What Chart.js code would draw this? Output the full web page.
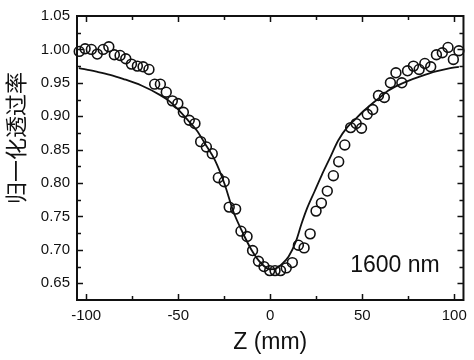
<!DOCTYPE html>
<html>
<head>
<meta charset="utf-8">
<script src="https://cdn.jsdelivr.net/npm/chart.js@4/dist/chart.umd.min.js"></script>
<style>
html,body{margin:0;padding:0;background:#fff;}
canvas{display:block;}
</style>
</head>
<body>
<canvas id="c" width="474" height="360"></canvas>
<script>
// Measured data (open circles)
const zData = [-103.8,-100.6,-97.2,-94.0,-90.8,-87.7,-84.7,-81.6,-78.5,-75.4,-72.2,-69.1,-65.9,-62.8,-59.7,-56.5,-53.2,-50.2,-47.2,-44.0,-40.9,-37.8,-34.7,-31.5,-28.2,-25.0,-22.3,-18.8,-15.9,-12.6,-9.6,-6.4,-3.4,-0.3,2.6,5.6,8.7,12.0,15.3,18.4,21.7,24.9,27.8,31.0,34.3,37.2,40.5,43.7,46.7,49.6,52.7,55.7,58.8,62.0,65.3,68.3,71.5,74.6,77.8,80.9,84.0,87.2,90.3,93.5,96.6,99.5,102.5];
const tData = [0.997,1.001,1.000,0.993,1.000,1.004,0.992,0.991,0.986,0.978,0.975,0.974,0.970,0.948,0.948,0.936,0.923,0.919,0.906,0.894,0.889,0.862,0.854,0.844,0.808,0.802,0.764,0.761,0.728,0.720,0.699,0.683,0.675,0.669,0.669,0.669,0.673,0.681,0.707,0.703,0.724,0.758,0.770,0.788,0.811,0.832,0.857,0.883,0.889,0.882,0.903,0.910,0.931,0.928,0.950,0.965,0.950,0.968,0.975,0.970,0.979,0.974,0.992,0.995,1.003,0.985,0.998];
// Fit curve (solid line)
const zFit = [-104,-95,-87,-80,-70,-60,-55,-50,-45,-40,-35,-30,-25,-20,-15,-10,-5,0,3,6,10,14,17,20,24,28,32,37,42,46,50,55,60,64,70,75,82,90,96,102.5];
const tFit = [0.972,0.967,0.962,0.956,0.946,0.932,0.923,0.910,0.895,0.879,0.857,0.834,0.800,0.757,0.726,0.699,0.680,0.671,0.672,0.678,0.690,0.713,0.739,0.762,0.787,0.812,0.835,0.864,0.884,0.895,0.906,0.918,0.929,0.938,0.947,0.953,0.960,0.967,0.971,0.974];
// Ticks
const xMajor = [-100,-50,0,50,100];
const xMinor = [-75,-25,25,75];
const yMajor = [0.65,0.70,0.75,0.80,0.85,0.90,0.95,1.00,1.05];
const yMinor = [0.675,0.725,0.775,0.825,0.875,0.925,0.975,1.025];
const yTitle = '归一化透过率';
const xTitle = 'Z (mm)';
const note = '1600 nm';

const FONT = '"Liberation Sans", Arial, sans-serif';
const INK = '#111';

const framePlugin = {
  id: 'frame',
  afterDraw(chart) {
    const {ctx, chartArea: a, scales: {x, y}} = chart;
    ctx.save();
    ctx.strokeStyle = INK;
    ctx.lineWidth = 2;
    ctx.strokeRect(a.left, a.top, a.right - a.left, a.bottom - a.top);
    ctx.lineWidth = 1.5;
    ctx.beginPath();
    const tx = (v, len) => {
      const px = Math.round(x.getPixelForValue(v)) + 0.5;
      ctx.moveTo(px, a.bottom); ctx.lineTo(px, a.bottom - len);
      ctx.moveTo(px, a.top); ctx.lineTo(px, a.top + len);
    };
    const ty = (v, len) => {
      const py = Math.round(y.getPixelForValue(v)) + 0.5;
      ctx.moveTo(a.left, py); ctx.lineTo(a.left + len, py);
      ctx.moveTo(a.right, py); ctx.lineTo(a.right - len, py);
    };
    xMajor.forEach(v => tx(v, 6));
    xMinor.forEach(v => tx(v, 4));
    yMajor.forEach(v => { if (v < 1.049) ty(v, 6); });
    yMinor.forEach(v => ty(v, 4));
    ctx.stroke();
    // y title
    ctx.fillStyle = INK;
    ctx.font = '22px "Noto Sans CJK SC", sans-serif';
    ctx.textAlign = 'center';
    ctx.textBaseline = 'middle';
    ctx.translate(16, 138);
    ctx.rotate(-Math.PI / 2);
    ctx.fillText(yTitle, 0, 0);
    ctx.setTransform(1, 0, 0, 1, 0, 0);
    // annotation
    ctx.font = '23px ' + FONT;
    ctx.textAlign = 'center';
    ctx.textBaseline = 'middle';
    ctx.fillText(note, 395, 266);
    ctx.restore();
  }
};

new Chart(document.getElementById('c'), {
  type: 'scatter',
  data: {
    datasets: [
      {
        label: 'fit',
        data: zFit.map((z, i) => ({x: z, y: tFit[i]})),
        showLine: true,
        pointRadius: 0,
        borderColor: INK,
        borderWidth: 1.8,
        cubicInterpolationMode: 'monotone',
        order: 2
      },
      {
        label: 'data',
        data: zData.map((z, i) => ({x: z, y: tData[i]})),
        showLine: false,
        pointRadius: 4.9,
        pointBorderWidth: 1.6,
        borderColor: INK,
        backgroundColor: 'rgba(255,255,255,0)',
        clip: 8,
        order: 1
      }
    ]
  },
  options: {
    responsive: false,
    animation: false,
    layout: {padding: {top: 13, right: 9, left: 0, bottom: 0}},
    plugins: {legend: {display: false}, tooltip: {enabled: false}},
    scales: {
      x: {
        type: 'linear', min: -105, max: 105,
        afterBuildTicks: s => { s.ticks = xMajor.map(v => ({value: v})); },
        afterFit: s => { s.height = 60; },
        grid: {display: false, drawTicks: false},
        border: {display: false},
        ticks: {font: {family: FONT, size: 15}, color: INK, padding: 7, maxRotation: 0, autoSkip: false,
                callback: v => String(v)},
        title: {display: true, text: xTitle, color: INK, font: {family: FONT, size: 23}, padding: {top: 0, bottom: 4}}
      },
      y: {
        type: 'linear', min: 0.625, max: 1.05,
        afterBuildTicks: s => { s.ticks = yMajor.map(v => ({value: v})); },
        afterFit: s => { s.width = 77; },
        grid: {display: false, drawTicks: false},
        border: {display: false},
        ticks: {font: {family: FONT, size: 15}, color: INK, padding: 7, autoSkip: false,
                callback: v => Number(v).toFixed(2)}
      }
    }
  },
  plugins: [framePlugin]
});
</script>
</body>
</html>
